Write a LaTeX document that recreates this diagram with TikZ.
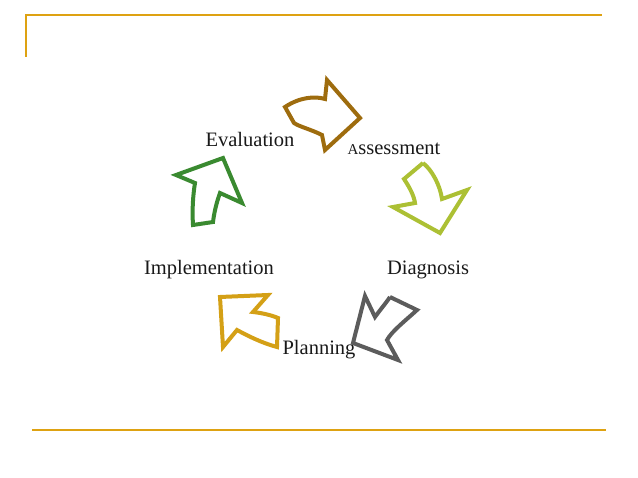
\documentclass[tikz,border=0pt]{standalone}
\usepackage{fontspec}
\setmainfont{Liberation Serif}
\usepackage{tikz}
\usetikzlibrary{positioning}
\definecolor{rulegold}{RGB}{222,162,18}
\definecolor{evalbrown}{RGB}{158,108,14}
\definecolor{assesslime}{RGB}{172,192,52}
\definecolor{diaggray}{RGB}{92,92,92}
\definecolor{plangold}{RGB}{212,160,22}
\definecolor{implgreen}{RGB}{58,138,48}
\tikzstyle{stage} = [inner sep=0pt, font=\fontsize{20.5}{24}\selectfont, text=black!90]
\tikzstyle{cyclearrow} = [line width=4pt, line join=miter, fill=white]
\tikzstyle{rule} = [draw=rulegold, line width=1.5pt]

\begin{document}
\begin{tikzpicture}[x=1pt, y=-1pt]
            \useasboundingbox (0,0) rectangle (638,478);

            % frame lines
            \coordinate (ruletop_l) at (26,15);
            \coordinate (ruletop_r) at (602,15);
            \coordinate (rulecorner) at (26,57);
            \coordinate (rulebot_l) at (32,430);
            \coordinate (rulebot_r) at (606,430);
            \draw [rule] (rulecorner) -- (ruletop_l) -- (ruletop_r);
            \draw [rule] (rulebot_l) -- (rulebot_r);

            % labels
            \node (evaluation) [stage] at (250,139) {Evaluation};
            \node (assessment) [stage] at (394,149) {{\fontsize{15}{17}\selectfont A}ssessment};
            \node (diagnosis) [stage] at (428,270) {Diagnosis};
            \node (implementation) [stage] at (209,270) {Implementation};
            \node (planning) [stage] at (319,350) {Planning};

            % cycle arrows
            \draw [cyclearrow, draw=evalbrown] (285,107) .. controls (300,97) and (315,96) .. (325,99)
                -- (327,80) -- (360,118) -- (325,150) -- (322,135)
                .. controls (310,129) and (300,127) .. (294,123) -- cycle;
            \draw [cyclearrow, draw=assesslime] (423,163) -- (404,179)
                .. controls (410,188) and (414,196) .. (415,203)
                -- (393,207) -- (440,233) -- (467,190) -- (442,199)
                .. controls (440,185) and (432,170) .. (423,163);
            \draw [cyclearrow, draw=diaggray] (390,297) -- (417,310)
                .. controls (405,321) and (392,331) .. (387,340)
                -- (398,360) -- (353,343) -- (365,296) -- (375,317)
                .. controls (380,310) and (386,303) .. (390,297);
            \draw [cyclearrow, draw=plangold] (220,297) -- (268,295) -- (253,312)
                .. controls (262,313) and (271,315) .. (278,318) -- (277,347)
                .. controls (262,343) and (248,336) .. (237,330) -- (223,347) -- cycle;
            \draw [cyclearrow, draw=implgreen] (223,158) -- (242,203) -- (220,193)
                .. controls (216,204) and (214,214) .. (213,222) -- (193,225)
                .. controls (192,210) and (193,195) .. (195,183) -- (176,175) -- cycle;

\end{tikzpicture}
\end{document}
